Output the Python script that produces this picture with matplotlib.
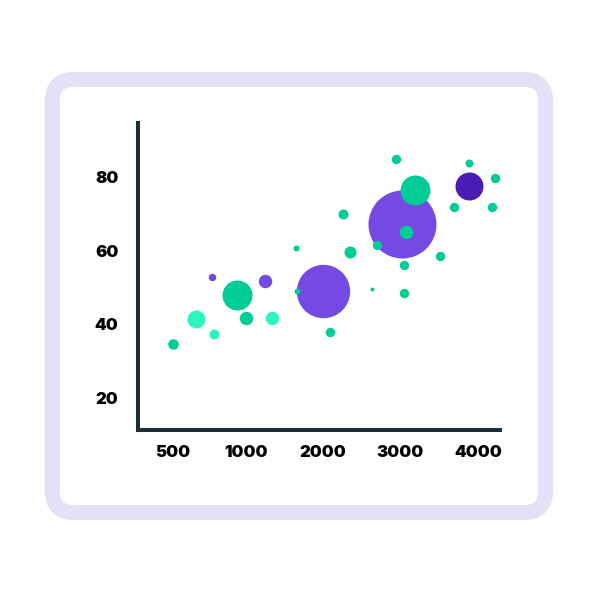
import matplotlib
matplotlib.use("Agg")
import matplotlib.pyplot as plt
import numpy as np
from matplotlib.patches import FancyBboxPatch

# bubble data
income = [500, 655, 781, 767, 938, 998, 1247, 1338, 1649, 1658, 2004, 2087, 2264, 2355,
          2636, 2697, 3022, 2944, 3192, 3078, 3052, 3056, 3509, 3885, 3885, 4221, 3688, 4175]
life = [34.6, 41.4, 37.3, 52.8, 48.0, 41.7, 51.8, 41.6, 60.8, 49.0, 49.0, 37.9, 70.0, 59.6,
        49.7, 61.5, 67.3, 84.9, 76.5, 65.0, 56.1, 48.5, 58.6, 83.8, 77.6, 79.8, 71.8, 71.9]
pop = [28, 81, 25, 14, 225, 45, 45, 45, 9, 9, 713, 22, 25, 36,
       4, 22, 1156, 22, 225, 45, 22, 22, 22, 16, 196, 22, 22, 22]
group = ['g', 'l', 'l', 'p', 'g', 'g', 'p', 'l', 'g', 'g', 'p', 'g', 'g', 'g',
         'g', 'g', 'p', 'g', 'g', 'g', 'g', 'g', 'g', 'g', 'd', 'g', 'g', 'g']

xticks = [500, 1000, 2000, 3000, 4000]
yticks = [20, 40, 60, 80]

colors = {'g': '#00CC96', 'l': '#2DF5BF', 'p': '#754AE3', 'd': '#4A1DB5'}

# uneven spacing of the x axis
xk = np.array([500, 1000, 2000, 3000, 4000], float)
pk = np.array([0, 73, 150, 227, 305], float)


def fwd(x):
    x = np.asarray(x, float)
    y = np.interp(x, xk, pk)
    y = np.where(x < xk[0], pk[0] + (x - xk[0]) * (pk[1] - pk[0]) / (xk[1] - xk[0]), y)
    y = np.where(x > xk[-1], pk[-1] + (x - xk[-1]) * (pk[-1] - pk[-2]) / (xk[-1] - xk[-2]), y)
    return y


def inv(p):
    p = np.asarray(p, float)
    x = np.interp(p, pk, xk)
    x = np.where(p < pk[0], xk[0] + (p - pk[0]) * (xk[1] - xk[0]) / (pk[1] - pk[0]), x)
    x = np.where(p > pk[-1], xk[-1] + (p - pk[-1]) * (xk[-1] - xk[-2]) / (pk[-1] - pk[-2]), x)
    return x


fig = plt.figure(figsize=(6, 6), dpi=100)

# card background
card = FancyBboxPatch((52.5 / 600, 1 - 512.5 / 600), 493 / 600, 433 / 600,
                      boxstyle="round,pad=0,rounding_size=0.035",
                      transform=fig.transFigure, facecolor='white',
                      edgecolor='#E6E0F6', linewidth=10.8, zorder=-1)
fig.patches.append(card)

ax = fig.add_axes([138 / 600, 1 - 430 / 600, 362 / 600, 307 / 600])
ax.set_zorder(2)
ax.set_facecolor('none')
ax.set_xscale('function', functions=(fwd, inv))

order = np.argsort(pop)[::-1]
for i in order:
    d = 2 * np.sqrt(pop[i]) * 0.72
    ax.scatter(income[i], life[i], s=d ** 2, color=colors[group[i]], linewidths=0, zorder=3)

ax.set_xlim(260, 4282)
ax.set_ylim(11.3, 94.7)
ax.set_xticks(xticks)
ax.set_xticklabels([str(t) for t in xticks])
ax.set_yticks(yticks)
ax.set_yticklabels([str(t) for t in yticks])

for s in ['top', 'right']:
    ax.spines[s].set_visible(False)
for s in ['left', 'bottom']:
    ax.spines[s].set_linewidth(2.9)
    ax.spines[s].set_color('#1E2D3A')
    ax.spines[s].set_capstyle('projecting')

ax.tick_params(axis='both', length=0, labelsize=12, labelcolor='#000000')
ax.tick_params(axis='y', pad=14)
ax.tick_params(axis='x', pad=11)
for lab in ax.get_xticklabels() + ax.get_yticklabels():
    lab.set_fontfamily('Inter')
    lab.set_fontweight('black')

fig.savefig('out.png', dpi=100)
